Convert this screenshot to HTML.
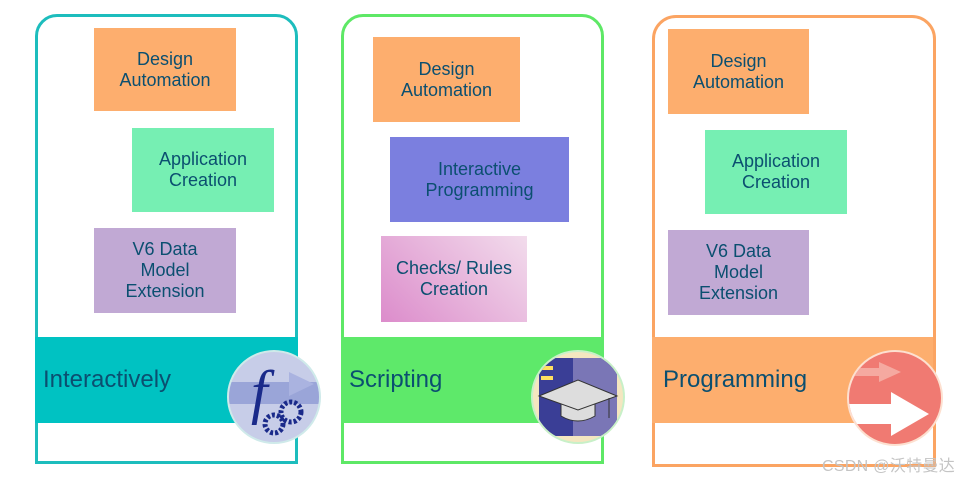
<!DOCTYPE html>
<html><head><style>
body{margin:0;width:971px;height:481px;background:#fff;position:relative;overflow:hidden;font-family:"Liberation Sans",sans-serif}
.p{position:absolute;border:3px solid;border-radius:22px 22px 0 0;box-sizing:border-box}
.b{position:absolute;display:flex;align-items:center;justify-content:center;text-align:center;color:#0b4f70;font-size:18px;line-height:21px}
.band{position:absolute;color:#0b4f70;font-size:24px;display:flex;align-items:center;padding-left:8px;box-sizing:border-box}
.c{position:absolute;border-radius:50%;overflow:hidden}
.o{background:#fdae6e}.g{background:#76efb3}.v{background:#c1a9d4}
</style></head><body>
<div class="p" style="left:35px;top:14px;width:263px;height:450px;border-color:#1dbdbd"></div>
<div class="b o" style="left:94px;top:28px;width:142px;height:83px">Design<br>Automation</div>
<div class="b g" style="left:132px;top:128px;width:142px;height:84px">Application<br>Creation</div>
<div class="b v" style="left:94px;top:228px;width:142px;height:85px">V6 Data<br>Model<br>Extension</div>
<div class="band" style="left:35px;top:337px;width:263px;height:86px;background:#00c2c2">Interactively</div>
<div class="c" style="left:227px;top:350px;width:90px;height:90px;background:#c7cde8;border:2px solid #cfeaea">
<svg width="90" height="90"><rect x="0" y="30" width="90" height="22" fill="#9aa5d8"/><polygon points="60,20 85,32 60,44" fill="#aab3e0"/><text x="22" y="60" font-family="Liberation Serif" font-style="italic" font-size="60" fill="#1a2a8a">f</text><circle cx="62" cy="60" r="10" fill="none" stroke="#1a2a8a" stroke-width="5" stroke-dasharray="3 2"/><circle cx="45" cy="72" r="9" fill="none" stroke="#1a2a8a" stroke-width="5" stroke-dasharray="3 2"/></svg></div>

<div class="p" style="left:341px;top:14px;width:263px;height:450px;border-color:#5ee866"></div>
<div class="b o" style="left:373px;top:37px;width:147px;height:85px">Design<br>Automation</div>
<div class="b" style="left:390px;top:137px;width:179px;height:85px;background:#7b7fdf">Interactive<br>Programming</div>
<div class="b" style="left:381px;top:236px;width:146px;height:86px;background:linear-gradient(45deg,#dc8ccb,#f2dcec)">Checks/ Rules<br>Creation</div>
<div class="band" style="left:341px;top:337px;width:263px;height:86px;background:#5ee96a">Scripting</div>
<div class="c" style="left:531px;top:350px;width:90px;height:90px;background:#f4e6c0;border:2px solid #c8f0c8">
<svg width="90" height="90"><rect x="6" y="6" width="78" height="78" fill="#3a3e96"/><rect x="40" y="6" width="44" height="78" fill="#7a76b6"/><rect x="8" y="14" width="12" height="4" fill="#ffe060"/><rect x="8" y="24" width="12" height="4" fill="#ffe060"/><path d="M28 48 v16 q17 10 34 0 v-16z" fill="#ddd" stroke="#333"/><polygon points="6,44 45,28 84,44 45,58" fill="#ddd" stroke="#333"/><line x1="76" y1="46" x2="76" y2="66" stroke="#333"/></svg></div>

<div class="p" style="left:652px;top:15px;width:284px;height:452px;border-color:#fba462;border-radius:24px 24px 0 0"></div>
<div class="b o" style="left:668px;top:29px;width:141px;height:85px">Design<br>Automation</div>
<div class="b g" style="left:705px;top:130px;width:142px;height:84px">Application<br>Creation</div>
<div class="b v" style="left:668px;top:230px;width:141px;height:85px">V6 Data<br>Model<br>Extension</div>
<div class="band" style="left:652px;top:337px;width:281px;height:86px;background:#fdae6e;padding-left:11px">Programming</div>
<div class="c" style="left:847px;top:350px;width:92px;height:92px;background:#f07a72;border:2px solid #fde0d0">
<svg width="92" height="92"><polygon points="6,16 30,16 30,10 52,20 30,30 30,24 6,24" fill="#f5a9a0"/><polygon points="0,52 42,52 42,40 80,62 42,84 42,72 0,72" fill="#fff"/></svg></div>
<div style="position:absolute;left:822px;top:452px;color:#c4c4c4;font-size:16px;letter-spacing:0.3px;font-family:'Liberation Sans','Noto Sans CJK SC',sans-serif">CSDN @沃特曼达</div>
</body></html>
